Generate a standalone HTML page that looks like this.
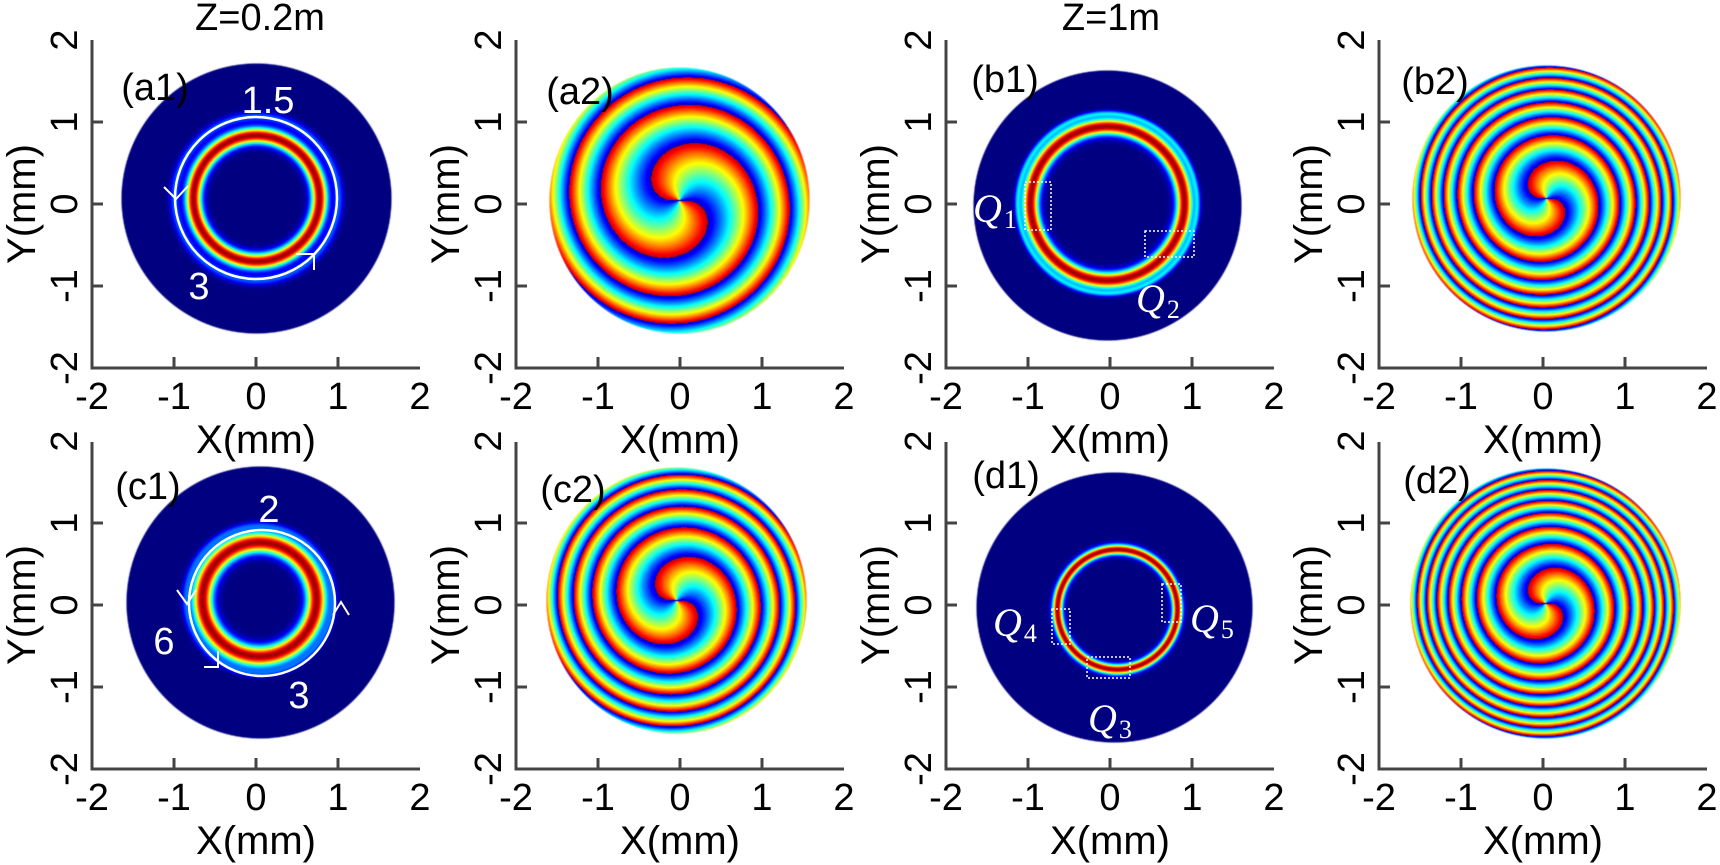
<!DOCTYPE html>
<html><head><meta charset="utf-8">
<style>
html,body{margin:0;padding:0;background:#fff;}
#wrap{position:relative;width:1720px;height:865px;overflow:hidden;background:#fff;}
canvas,svg{position:absolute;left:0;top:0;}
</style></head><body>
<div id="wrap">
<canvas id="c" width="1720" height="865"></canvas>
<svg width="1720" height="865" viewBox="0 0 1720 865" xmlns="http://www.w3.org/2000/svg" id="s"
 font-family="'Liberation Sans Narrow','Liberation Sans',sans-serif">
</svg>
</div>
<script>
(function(){
var cv=document.getElementById('c'),ctx=cv.getContext('2d');
var W=1720,H=865,img=ctx.createImageData(W,H),d=img.data;
for(var i=0;i<d.length;i+=4){d[i]=255;d[i+1]=255;d[i+2]=255;d[i+3]=255;}
function cl(x){return x<0?0:x>1?1:x;}
function jet(v){return [cl(1.5-Math.abs(4*v-3)),cl(1.5-Math.abs(4*v-2)),cl(1.5-Math.abs(4*v-1))];}
var P=[
 {cx:256,cy:198,rx:135,ry:135,t:'i',rings:[[256,198,63,8,1],[256,198,82,5,0.22]]},
 {cx:679,cy:200,rx:130,ry:133,t:'p',m:2,a:7},
 {cx:1107,cy:205,rx:134,ry:135,t:'i',rings:[[1107,203,77,8,1],[1107,203,90,3,0.3]]},
 {cx:1546,cy:198,rx:134,ry:133,t:'p',m:2,a:16},
 {cx:260,cy:602,rx:134,ry:136,t:'i',rings:[[259,599,57,10,1],[259,599,74,4,0.18]]},
 {cx:676,cy:600,rx:130,ry:133,t:'p',m:2,a:12},
 {cx:1114,cy:607,rx:138,ry:135,t:'i',rings:[[1117,609,60,5,1]]},
 {cx:1545,cy:603,rx:135,ry:135,t:'p',m:2,a:18}
];
P.forEach(function(p){
 for(var y=Math.floor(p.cy-p.ry-3);y<=p.cy+p.ry+3;y++){
  for(var x=Math.floor(p.cx-p.rx-3);x<=p.cx+p.rx+3;x++){
   var dx=(x-p.cx)/p.rx,dy=(y-p.cy)/p.ry,q=Math.sqrt(dx*dx+dy*dy);
   var al=cl((1-q)*p.rx/1.5+0.5); if(al<=0)continue;
   var c;
   if(p.t=='i'){
    var v=0;
    p.rings.forEach(function(r){var rr=Math.hypot(x-r[0],y-r[1]);v+=r[4]*Math.exp(-Math.pow((rr-r[2])/r[3],2));});
    c=jet(cl(v)*0.97);
   } else {
    var X=(x-p.cx)/82,Y=-(y-p.cy)/82;
    var th=Math.atan2(Y,X),rho2=X*X+Y*Y;
    var ph=p.m*th+p.a*rho2;
    var v=((ph/(2*Math.PI))%1+1)%1;
    c=jet(0.06+0.88*v);
   }
   var k=(y*W+x)*4;
   d[k]=Math.round(255*(1-al)+255*c[0]*al);
   d[k+1]=Math.round(255*(1-al)+255*c[1]*al);
   d[k+2]=Math.round(255*(1-al)+255*c[2]*al);
  }
 }
});
ctx.putImageData(img,0,0);

var s=document.getElementById('s'),h='';
var cols=[92,516,946,1379],rows=[[368,40],[769,442]];
function T(x,y,t,sz,rot,extra){
 h+='<text x="'+x+'" y="'+y+'" font-size="'+sz+'" text-anchor="middle" dominant-baseline="central"'+(rot?' transform="rotate(-90 '+x+' '+y+')"':'')+(extra||'')+'>'+t+'</text>';
}
rows.forEach(function(r){
 var ya=r[0],yt=r[1];
 cols.forEach(function(xa){
  h+='<path d="M'+xa+' '+yt+'V'+ya+'H'+(xa+328)+'" fill="none" stroke="#444" stroke-width="3"/>';
  for(var k=1;k<=3;k++){
   h+='<path d="M'+(xa+82*k)+' '+ya+'v-11M'+xa+' '+(ya-82*k)+'h11" stroke="#444" stroke-width="3"/>';
  }
  var lab=['-2','-1','0','1','2'];
  for(var k=0;k<5;k++){
   T(xa+82*k,ya+29,lab[k],38);
   T(xa-27,ya-82*k,lab[k],38,true);
  }
  T(xa+164,ya+72,'X(mm)',40);
  T(xa-70,ya-164,'Y(mm)',40,true);
 });
});
T(260,18,'Z=0.2m',38);T(1111,18,'Z=1m',38);
T(155,88,'(a1)',38);T(580,92,'(a2)',38);T(1005,80,'(b1)',38);T(1435,82,'(b2)',38);
T(148,487,'(c1)',38);T(573,490,'(c2)',38);T(1006,476,'(d1)',38);T(1437,481,'(d2)',38);
h+='<circle cx="256" cy="198" r="81" fill="none" stroke="#fff" stroke-width="2.5"/>';
h+='<path d="M164 187l12 12l12-13M296 254h18v16" fill="none" stroke="#fff" stroke-width="2"/>';
h+='<g fill="#fff">';
T(268,101,'1.5',38);T(199,287,'3',38);
h+='</g>';
h+='<circle cx="262" cy="603" r="73" fill="none" stroke="#fff" stroke-width="2.5"/>';
h+='<path d="M177 590l10 14l9-14M333 615l8-13l8 13M218 651v16h-14" fill="none" stroke="#fff" stroke-width="2"/>';
h+='<g fill="#fff">';
T(269,510,'2',38);T(164,642,'6',38);T(299,696,'3',38);
h+='</g>';
function B(x,y,w,hh){h+='<rect x="'+x+'" y="'+y+'" width="'+w+'" height="'+hh+'" fill="none" stroke="#fff" stroke-width="1.5" stroke-dasharray="2,2"/>';}
B(1025,182,26,48);B(1145,231,49,26);B(1052,609,18,35);B(1162,584,19,38);B(1087,657,43,21);
function Q(x,y,n){h+='<text x="'+x+'" y="'+y+'" fill="#fff" font-family="\'Liberation Serif\',serif" font-style="italic" font-size="40">Q<tspan font-style="normal" font-size="26" dx="2" dy="6">'+n+'</tspan></text>';}
Q(973,222,'1');Q(1136,312,'2');Q(1088,732,'3');Q(993,636,'4');Q(1190,632,'5');
s.innerHTML=h;
})();
</script>
</body></html>
